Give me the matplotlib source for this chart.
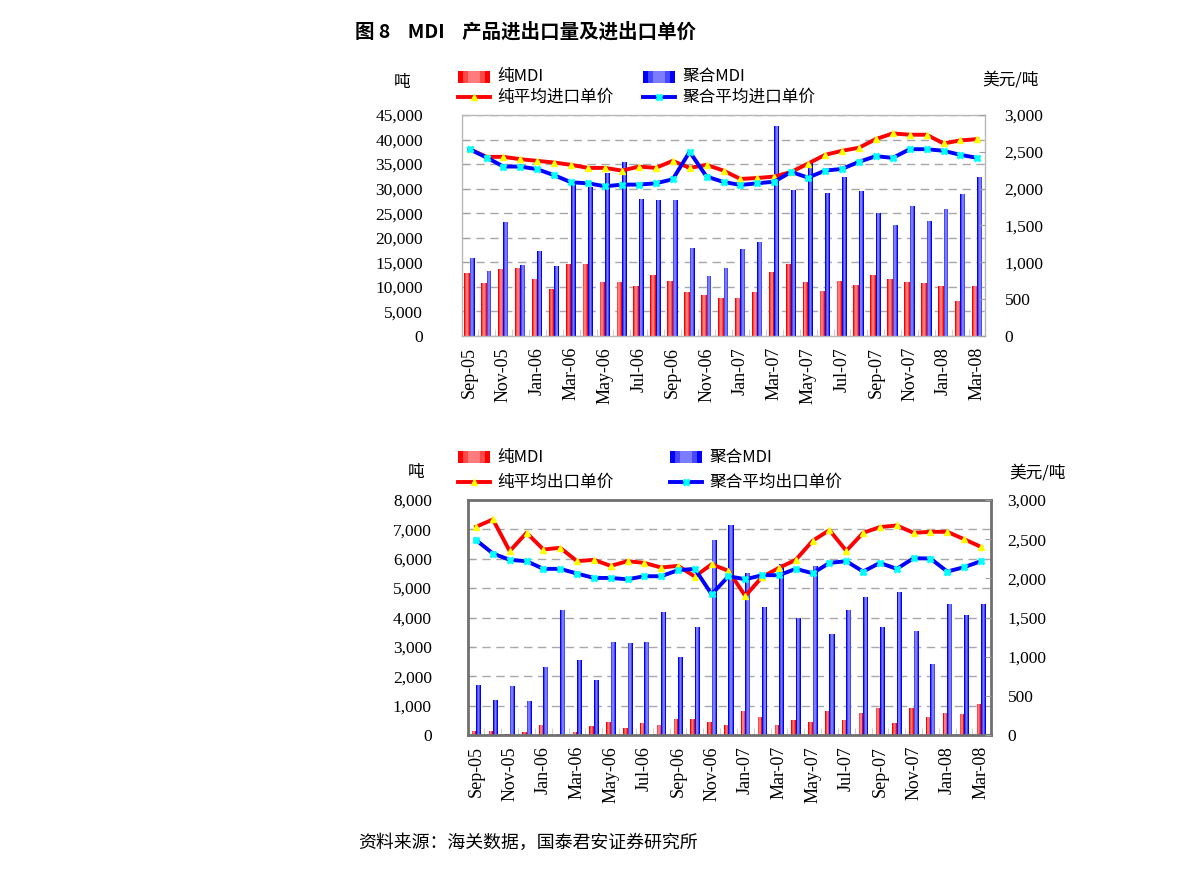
import matplotlib
matplotlib.use('Agg')
import matplotlib.pyplot as plt
from matplotlib.patches import Rectangle
from matplotlib.lines import Line2D
from matplotlib.ticker import FuncFormatter, FixedLocator
import numpy as np

CJK = ['Noto Sans CJK SC', 'DejaVu Sans']
SERIF = ['Liberation Serif', 'DejaVu Serif']
plt.rcParams['font.family'] = CJK

# ---------------- data ----------------
months = ['Sep-05', 'Oct-05', 'Nov-05', 'Dec-05', 'Jan-06', 'Feb-06', 'Mar-06', 'Apr-06',
          'May-06', 'Jun-06', 'Jul-06', 'Aug-06', 'Sep-06', 'Oct-06', 'Nov-06', 'Dec-06',
          'Jan-07', 'Feb-07', 'Mar-07', 'Apr-07', 'May-07', 'Jun-07', 'Jul-07', 'Aug-07',
          'Sep-07', 'Oct-07', 'Nov-07', 'Dec-07', 'Jan-08', 'Feb-08', 'Mar-08']

# import volumes (tonnes)
imp_pure = [12890, 10840, 13700, 13900, 11660, 9610, 14730, 14730, 11050, 11050, 10230,
            12480, 11250, 9000, 8390, 7770, 7770, 9000, 13090, 14730, 11050, 9200, 11250,
            10430, 12480, 11660, 11050, 10840, 10230, 7160, 10230]
imp_poly = [15950, 13300, 23300, 14500, 17390, 14320, 31230, 30270, 33140, 35390, 27820,
            27680, 27680, 18000, 12270, 13910, 17800, 19230, 42750, 29660, 35390, 29050,
            32320, 29450, 24950, 22700, 26390, 23320, 25770, 28840, 32320]
# import unit prices (USD/t)
imp_pure_price = [2536, 2432, 2432, 2400, 2377, 2355, 2323, 2282, 2282, 2245, 2300, 2282,
                  2377, 2282, 2323, 2245, 2132, 2145, 2164, 2227, 2341, 2459, 2514, 2555,
                  2673, 2750, 2732, 2732, 2614, 2655, 2673]
imp_poly_price = [2536, 2423, 2300, 2300, 2264, 2182, 2086, 2073, 2032, 2055, 2055, 2073,
                  2127, 2500, 2164, 2091, 2050, 2073, 2095, 2227, 2150, 2245, 2268, 2364,
                  2441, 2418, 2536, 2536, 2514, 2459, 2418]

# export volumes (tonnes)
exp_pure = [148, 148, 46, 114, 353, 46, 114, 319, 455, 250, 421, 353, 558, 558, 455, 353,
            831, 626, 353, 523, 455, 831, 523, 762, 933, 421, 933, 626, 762, 728, 1070]
exp_poly = [1718, 1206, 1684, 1172, 2299, 4245, 2538, 1889, 3152, 3118, 3152, 4176, 2640,
            3664, 6635, 7147, 5508, 4347, 5815, 3972, 5747, 3425, 4245, 4689, 3664, 4859,
            3528, 2401, 4450, 4074, 4450]
# export unit prices (USD/t)
exp_pure_price = [2658, 2752, 2347, 2581, 2368, 2390, 2219, 2236, 2159, 2219, 2197, 2138,
                  2159, 2023, 2180, 2095, 1775, 2018, 2134, 2236, 2479, 2616, 2351, 2581,
                  2654, 2675, 2581, 2594, 2594, 2500, 2402]
exp_poly_price = [2488, 2317, 2236, 2219, 2121, 2121, 2061, 2005, 2005, 1988, 2027, 2027,
                  2104, 2121, 1796, 2027, 1988, 2040, 2040, 2121, 2065, 2197, 2219, 2087,
                  2197, 2121, 2257, 2253, 2087, 2142, 2219]

W, H = 1190, 871
fig = plt.figure(figsize=(W / 100, H / 100), dpi=100)


def px_axes(l, t, r, b):
    return fig.add_axes([l / W, 1 - b / H, (r - l) / W, (b - t) / H])


thou = FuncFormatter(lambda v, p: '0' if v == 0 else f'{int(v):,}')

RED_SHADES = ['#ff0000', '#ff4848', '#ff7c7c']
BLUE_SHADES = ['#0000ff', '#4848ff', '#7c7cff']
FRACS = [1.0, 0.7, 0.35]


def gradient_bars(ax, xpos, vals, width, shades):
    for frac, col in zip(FRACS, shades):
        ax.bar(xpos, vals, width * frac, color=col, zorder=2, linewidth=0)


def draw_panel(box, ylim_l, step_l, ylim_r, step_r, pure, poly, p_pure, p_poly,
               xlim, wr, wb, frame_col, frame_lw, pad_l, pad_r):
    ax = px_axes(*box)
    x = np.arange(len(months))
    gradient_bars(ax, x - wr / 2, pure, wr, RED_SHADES)
    gradient_bars(ax, x + wb / 2, poly, wb, BLUE_SHADES)
    ax.set_xlim(*xlim)
    ax.set_ylim(0, ylim_l)
    ax.set_yticks(np.arange(0, ylim_l + 1, step_l))
    ax.yaxis.set_major_formatter(thou)
    ax.yaxis.grid(True, linestyle=(0, (6, 4)), color='#a8a8a8', linewidth=1, zorder=0)
    ax.set_axisbelow(True)
    ax.set_xticks(x[::2])
    ax.set_xticklabels(months[::2], rotation=90, family=SERIF, fontsize=13)
    ax.xaxis.set_minor_locator(FixedLocator(x[:-1] + 0.5))
    ax.tick_params(axis='x', which='major', length=0, pad=8)
    ax.tick_params(axis='x', which='minor', direction='in', length=5, color='#c8c8c8')
    ax.tick_params(axis='y', direction='in', length=4, color='#a0a0a0', pad=pad_l,
                   labelsize=12.5)
    for lab in ax.get_yticklabels():
        lab.set_family(SERIF)
    for s in ax.spines.values():
        s.set_color(frame_col)
        s.set_linewidth(frame_lw)

    ax2 = ax.twinx()
    ax2.set_ylim(0, ylim_r)
    ax2.set_yticks(np.arange(0, ylim_r + 1, step_r))
    ax2.yaxis.set_major_formatter(thou)
    ax2.tick_params(axis='y', direction='in', length=4, color='#a0a0a0', pad=pad_r,
                    labelsize=12.5)
    for lab in ax2.get_yticklabels():
        lab.set_family(SERIF)
    for s in ax2.spines.values():
        s.set_visible(False)
    ax2.plot(x, p_pure, color='#ff0000', lw=2.8, marker='^', ms=4.5, mfc='#ffff00',
             mec='#ffff00', zorder=4)
    ax2.plot(x, p_poly, color='#0000ff', lw=2.8, marker='X', ms=4.5, mfc='#00ffff',
             mec='#00ffff', zorder=4)
    return ax, ax2


# top panel: imports
draw_panel((462, 115, 985, 336), 45000, 5000, 3000, 500, imp_pure, imp_poly,
           imp_pure_price, imp_poly_price, (-0.45, 30.45), 0.32, 0.29,
           '#b8b8b8', 1.0, 28, 14)
# bottom panel: exports
draw_panel((468, 500, 991, 735), 8000, 1000, 3000, 500, exp_pure, exp_poly,
           exp_pure_price, exp_poly_price, (-0.48, 30.6), 0.26, 0.3,
           '#707070', 2.0, 26, 12)

# overlay for texts and legends (pixel coordinates)
ov = fig.add_axes([0, 0, 1, 1], zorder=10)
ov.set_xlim(0, W)
ov.set_ylim(H, 0)
ov.axis('off')

ov.text(355, 32, '图 8    MDI    产品进出口量及进出口单价', fontsize=14, fontweight='bold',
        va='center', ha='left')
ov.text(358, 843, '资料来源：海关数据，国泰君安证券研究所', fontsize=12.9, va='center',
        ha='left')

# axis unit labels
ov.text(402, 83, '吨', fontsize=12, ha='center', va='center')
ov.text(1010, 80, '美元/吨', fontsize=12, ha='center', va='center')
ov.text(416, 472, '吨', fontsize=12, ha='center', va='center')
ov.text(1037, 473, '美元/吨', fontsize=12, ha='center', va='center')


def patch_handle(x0, y, shades):
    for frac, col in zip(FRACS, shades):
        w = 32 * frac
        ov.add_patch(Rectangle((x0 + (32 - w) / 2, y - 6), w, 12, color=col, lw=0))


def line_handle(x0, y, col, mcol, marker):
    ov.add_line(Line2D([x0, x0 + 32], [y, y], color=col, lw=2.8))
    ov.add_line(Line2D([x0 + 16], [y], color=col, marker=marker, ms=5, mfc=mcol, mec=mcol,
                       lw=0))


def legend(y1, y2, xa, xb, texta, textb, textc, textd):
    patch_handle(xa, y1, RED_SHADES)
    ov.text(xa + 39, y1, texta, fontsize=12, va='center', ha='left')
    patch_handle(xb, y1, BLUE_SHADES)
    ov.text(xb + 39, y1, textb, fontsize=12, va='center', ha='left')
    line_handle(xa, y2, '#ff0000', '#ffff00', '^')
    ov.text(xa + 39, y2, textc, fontsize=12, va='center', ha='left')
    line_handle(xb, y2, '#0000ff', '#00ffff', 'X')
    ov.text(xb + 39, y2, textd, fontsize=12, va='center', ha='left')


legend(77, 97, 458, 643, '纯MDI', '聚合MDI', '纯平均进口单价', '聚合平均进口单价')
legend(457, 482, 458, 670, '纯MDI', '聚合MDI', '纯平均出口单价', '聚合平均出口单价')

fig.savefig('out.png', dpi=100)
